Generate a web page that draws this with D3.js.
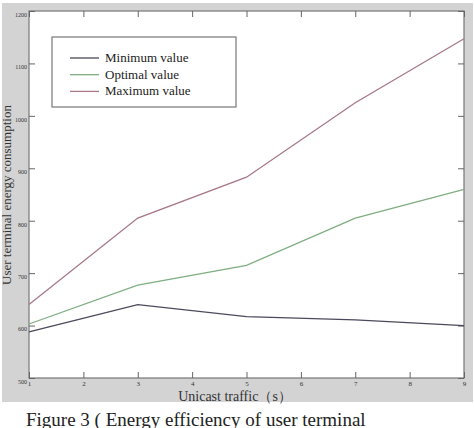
<!DOCTYPE html><html><head><meta charset="utf-8"><script src="https://d3js.org/d3.v7.min.js"></script>
<style>body{margin:0;background:#fff}</style></head><body><svg id="c" width="474" height="428"></svg>
<script>
const xValues=[1,3,5,7,9];
const minValues=[588,640,617,611,600];
const optValues=[603,677,715,805,860];
const maxValues=[640,805,883,1025,1147];
const seriesNames=["Minimum value","Optimal value","Maximum value"];
const xTicks=[1,2,3,4,5,6,7,8,9];
const yTicks=[500,600,700,800,900,1000,1100,1200];
const colors=["#4a4a5c","#7fae82","#a6788a"];
const svg=d3.select("#c");
svg.append("rect").attr("x",2).attr("y",3).attr("width",471).attr("height",399).attr("fill","#d3d3d3");
const L=29,R=464,T=11,B=378;
svg.append("rect").attr("x",L).attr("y",T).attr("width",R-L).attr("height",B-T).attr("fill","#fff").attr("stroke","#777").attr("stroke-width",1.2);
const x=d3.scaleLinear().domain([1,9]).range([L,R]);
const y=d3.scaleLinear().domain([500,1200]).range([B,T]);
const font="Liberation Serif";
const gx=svg.append("g").attr("transform",`translate(0,${B})`).call(d3.axisBottom(x).tickValues(xTicks).tickSize(-6).tickPadding(3).tickFormat(d3.format("d")));
const gxt=svg.append("g").attr("transform",`translate(0,${T})`).call(d3.axisTop(x).tickValues(xTicks).tickSize(-6).tickFormat(""));
const gy=svg.append("g").attr("transform",`translate(${L},0)`).call(d3.axisLeft(y).tickValues(yTicks).tickSize(-6).tickPadding(2).tickFormat(d3.format("d")));
const gyr=svg.append("g").attr("transform",`translate(${R},0)`).call(d3.axisRight(y).tickValues(yTicks).tickSize(-6).tickFormat(""));
[gx,gxt,gy,gyr].forEach(g=>{g.select(".domain").remove();g.selectAll("line").attr("stroke","#666");g.selectAll("text").attr("font-family","Liberation Sans Narrow").attr("font-size",7).attr("fill","#333");});
gy.selectAll("text").attr("font-size",6).attr("dy","0.9em");
const all=[minValues,optValues,maxValues];
const line=d3.line().x((d,i)=>x(xValues[i])).y(d=>y(d));
all.forEach((s,k)=>svg.append("path").datum(s).attr("d",line).attr("fill","none").attr("stroke",colors[k]).attr("stroke-width",1.3));
svg.append("rect").attr("x",52).attr("y",37).attr("width",184).attr("height",70).attr("fill","#fff").attr("stroke","#777").attr("stroke-width",1.2);
seriesNames.forEach((n,k)=>{const yy=58+k*16.7;
svg.append("line").attr("x1",70).attr("x2",99).attr("y1",yy).attr("y2",yy).attr("stroke",colors[k]).attr("stroke-width",1.3);
svg.append("text").attr("x",105).attr("y",yy+4).attr("font-family",font).attr("font-size",13).attr("fill","#222").text(n);});
svg.append("text").attr("x",235).attr("y",401).attr("text-anchor","middle").attr("font-family",font).attr("font-size",14).attr("fill","#333").text("Unicast traffic（s）");
svg.append("text").attr("transform","translate(11,195) rotate(-90)").attr("text-anchor","middle").attr("font-family",font).attr("font-size",13).attr("fill","#333").text("User terminal energy consumption");
svg.append("text").attr("x",26).attr("y",426).attr("font-family",font).attr("font-size",19).attr("fill","#222").text("Figure 3      ( Energy efficiency of user terminal");
</script></body></html>
